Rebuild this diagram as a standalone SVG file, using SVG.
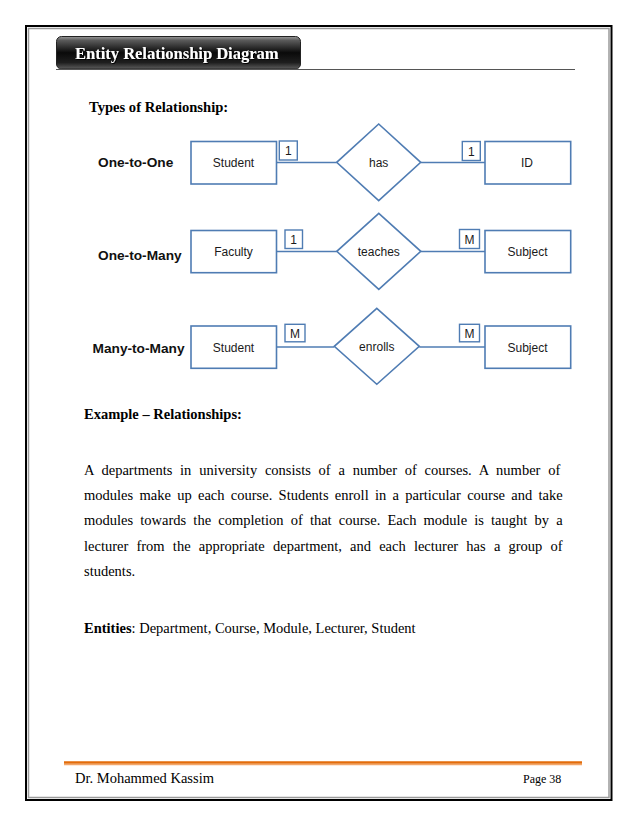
<svg xmlns="http://www.w3.org/2000/svg" width="638" height="826" viewBox="0 0 638 826">
<defs>
  <linearGradient id="tg" x1="0" y1="0" x2="0" y2="1">
    <stop offset="0" stop-color="#9a9a9a"/>
    <stop offset="0.12" stop-color="#5a5a5a"/>
    <stop offset="0.5" stop-color="#0a0a0a"/>
    <stop offset="0.8" stop-color="#1e1e1e"/>
    <stop offset="1" stop-color="#5c5c5c"/>
  </linearGradient>
  <filter id="sh" x="-5%" y="-20%" width="110%" height="140%">
    <feDropShadow dx="1" dy="1" stdDeviation="0.6" flood-color="#000" flood-opacity="0.9"/>
  </filter>
</defs>
<style>
  .ent { fill: #fff; stroke: #4f7cb3; stroke-width: 1.6; }
  .rel { fill: #fff; stroke: #4f7cb3; stroke-width: 1.6; }
  .card { fill: #fff; stroke: #4f7cb3; stroke-width: 1.4; }
  .con { stroke: #4f7cb3; stroke-width: 1.6; fill: none; }
  .et { font-family: "Liberation Sans", Arial, sans-serif; font-size: 12px; fill: #1a1a1a; text-anchor: middle; }
  .ct { font-family: "Liberation Sans", Arial, sans-serif; font-size: 12px; fill: #1a1a1a; text-anchor: middle; }
  .lab { font-family: "Liberation Sans", Arial, sans-serif; font-size: 13.7px; font-weight: bold; fill: #111; }
  .serif { font-family: "Liberation Serif", "Times New Roman", serif; fill: #000; }
  .body { font-family: "Liberation Serif", "Times New Roman", serif; font-size: 14.5px; fill: #000; }
</style>
<rect x="0" y="0" width="638" height="826" fill="#fff"/>
<!-- page frame -->
<rect x="26" y="26" width="585.5" height="774" fill="none" stroke="#000" stroke-width="2"/>
<rect x="28.5" y="28.5" width="580.5" height="769" fill="none" stroke="#9a9a9a" stroke-width="1.5"/>
<!-- title -->
<g id="title">
  <rect x="56.5" y="36.5" width="244" height="32.5" rx="5" fill="url(#tg)" stroke="#222" stroke-width="1"/>
  <text x="75" y="58.5" class="serif" font-size="16.5" font-weight="bold" fill="#fff" style="fill:#fff" filter="url(#sh)">Entity Relationship Diagram</text>
</g>
<line x1="56" y1="69.5" x2="575" y2="69.5" stroke="#555" stroke-width="1"/>
<text x="89" y="112" class="serif" font-size="14.6" font-weight="bold">Types of Relationship:</text>
<!-- row labels -->
<text x="98" y="166.5" class="lab">One-to-One</text>
<text x="98" y="259.5" class="lab">One-to-Many</text>
<text x="92.5" y="353.3" class="lab">Many-to-Many</text>
<!-- connectors -->
<g id="connectors">
  <line class="con" x1="276.5" y1="162.5" x2="336.7" y2="162.5"/>
  <line class="con" x1="420.7" y1="162.5" x2="485" y2="162.5"/>
  <line class="con" x1="276.5" y1="251.5" x2="336.8" y2="251.5"/>
  <line class="con" x1="420.8" y1="251.5" x2="485" y2="251.5"/>
  <line class="con" x1="276.5" y1="347" x2="334.3" y2="347"/>
  <line class="con" x1="419.3" y1="347" x2="485" y2="347"/>
</g>
<!-- row 1 -->
<g id="student1"><rect class="ent" x="191" y="141.5" width="85.5" height="42.5"/><text class="et" x="233.5" y="167">Student</text></g>
<g id="has"><polygon class="rel" points="378.7,124 420.7,162.3 378.7,200.7 336.7,162.3"/><text class="et" x="378.7" y="166.5">has</text></g>
<g id="id"><rect class="ent" x="485" y="141.5" width="85.7" height="42.5"/><text class="et" x="527" y="167">ID</text></g>
<g id="card1a"><rect class="card" x="279.3" y="141" width="18" height="19"/><text class="ct" x="288.3" y="155">1</text></g>
<g id="card1b"><rect class="card" x="462.3" y="141.5" width="18" height="19"/><text class="ct" x="471.3" y="155.5">1</text></g>
<!-- row 2 -->
<g id="faculty"><rect class="ent" x="191" y="230.5" width="85.5" height="42.2"/><text class="et" x="233.5" y="256">Faculty</text></g>
<g id="teaches"><polygon class="rel" points="378.8,213.3 420.8,251.3 378.8,289.3 336.8,251.3"/><text class="et" x="378.8" y="256">teaches</text></g>
<g id="subject1"><rect class="ent" x="485" y="230.5" width="85.7" height="42.2"/><text class="et" x="527.5" y="256">Subject</text></g>
<g id="card2a"><rect class="card" x="285" y="230" width="17.5" height="18.5"/><text class="ct" x="293.7" y="244">1</text></g>
<g id="card2b"><rect class="card" x="459.5" y="229.5" width="20" height="19"/><text class="ct" x="469.5" y="243.8">M</text></g>
<!-- row 3 -->
<g id="student2"><rect class="ent" x="191" y="326" width="85.5" height="42.3"/><text class="et" x="233.5" y="351.5">Student</text></g>
<g id="enrolls"><polygon class="rel" points="376.8,308.3 419.3,346.3 376.8,384.3 334.3,346.3"/><text class="et" x="376.8" y="350.8">enrolls</text></g>
<g id="subject2"><rect class="ent" x="485" y="326" width="85.7" height="42.3"/><text class="et" x="527.5" y="351.5">Subject</text></g>
<g id="card3a"><rect class="card" x="285" y="324.3" width="20" height="17.5"/><text class="ct" x="295" y="337.7">M</text></g>
<g id="card3b"><rect class="card" x="459.5" y="324.3" width="20" height="17.5"/><text class="ct" x="469.5" y="337.7">M</text></g>
<!-- body text -->
<text x="84" y="419.3" class="body" font-weight="bold">Example – Relationships:</text>
<text x="84" y="475" class="body" word-spacing="4.15">A departments in university consists of a number of courses. A number of</text>
<text x="84" y="500" class="body" word-spacing="2.68">modules make up each course. Students enroll in a particular course and take</text>
<text x="84" y="525.3" class="body" word-spacing="3.54">modules towards the completion of that course. Each module is taught by a</text>
<text x="84" y="550.5" class="body" word-spacing="4.57">lecturer from the appropriate department, and each lecturer has a group of</text>
<text x="84" y="575.5" class="body">students.</text>
<text x="84" y="632.7" class="body"><tspan font-weight="bold">Entities</tspan>: Department, Course, Module, Lecturer, Student</text>
<!-- footer -->
<line x1="64" y1="762.5" x2="582" y2="762.5" stroke="#e36c0a" stroke-width="2.6"/>
<line x1="64" y1="764.6" x2="582" y2="764.6" stroke="#f3a66a" stroke-width="1.2"/>
<text x="75" y="783" class="serif" font-size="14.5">Dr. Mohammed Kassim</text>
<text x="523" y="782.5" class="serif" font-size="12">Page 38</text>
</svg>
